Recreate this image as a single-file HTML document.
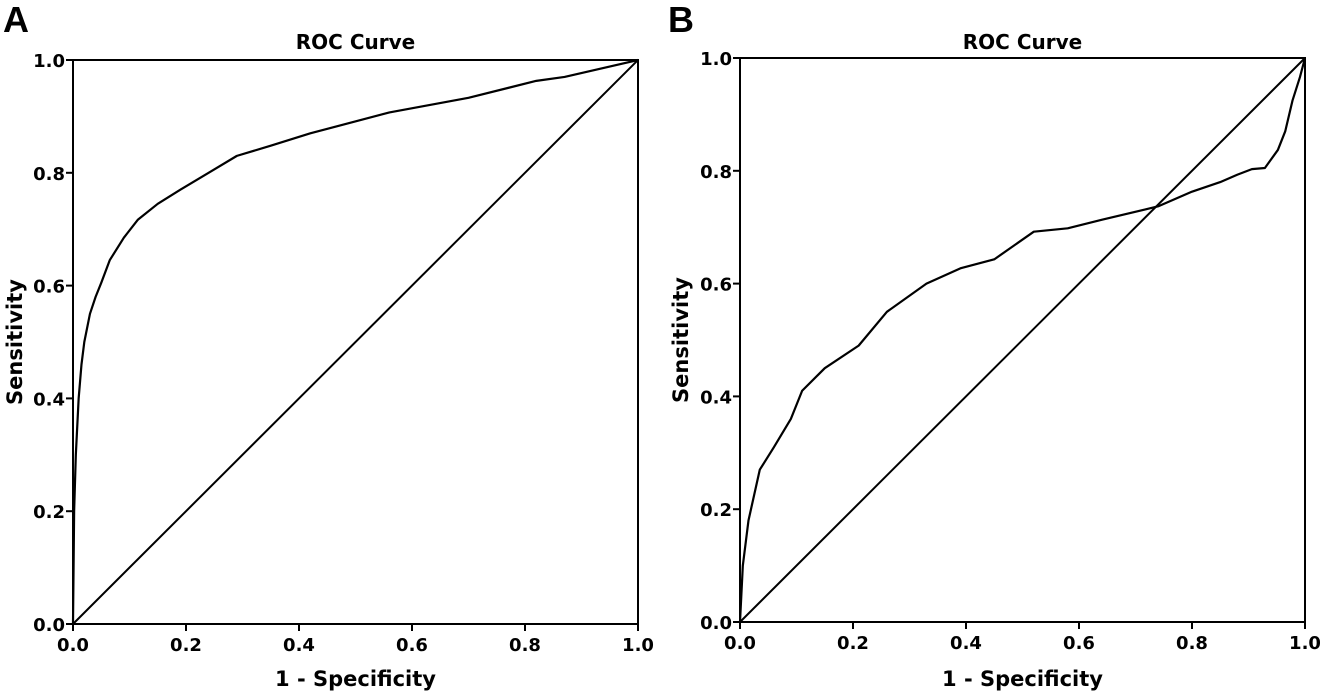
<!DOCTYPE html>
<html><head><meta charset="utf-8"><style>
html,body{margin:0;padding:0;background:#fff;}
svg{display:block;font-family:"DejaVu Sans","Liberation Sans",sans-serif;}
</style></head><body>
<svg id="c" width="1320" height="694" xmlns="http://www.w3.org/2000/svg"></svg>
<script>
const ticks = [0, 0.2, 0.4, 0.6, 0.8, 1.0];
const tickLabels = ["0.0","0.2","0.4","0.6","0.8","1.0"];
const rocAx = [0,0.002,0.005,0.01,0.015,0.02,0.03,0.04,0.05,0.065,0.09,0.115,0.15,0.19,0.24,0.29,0.35,0.42,0.56,0.7,0.82,0.87,1];
const rocAy = [0,0.2,0.3,0.4,0.46,0.5,0.55,0.58,0.605,0.645,0.685,0.717,0.745,0.77,0.8,0.83,0.848,0.87,0.907,0.933,0.963,0.97,1];
const rocBx = [0,0.005,0.015,0.035,0.06,0.09,0.11,0.15,0.21,0.26,0.33,0.39,0.45,0.52,0.58,0.64,0.74,0.8,0.85,0.88,0.906,0.929,0.952,0.965,0.978,0.991,1];
const rocBy = [0,0.1,0.18,0.27,0.31,0.36,0.41,0.45,0.49,0.55,0.6,0.627,0.643,0.692,0.698,0.713,0.737,0.763,0.78,0.793,0.803,0.805,0.837,0.87,0.925,0.966,1];

const NS="http://www.w3.org/2000/svg";
const svg=document.getElementById('c');
function mk(tag,attrs,parent){const e=document.createElementNS(NS,tag);for(const k in attrs)e.setAttribute(k,attrs[k]);(parent||svg).appendChild(e);return e;}

function panel(letter,x0,x1,yTop,yBot,xs,ys,letterX,ylabX,key){
  const g=mk('g',{});
  
  
  const sx=v=>x0+v*(x1-x0), sy=v=>yBot-v*(yBot-yTop);
  const L=mk('text',{x:letterX,y:32,'font-size':36,'font-weight':'bold','font-family':'Liberation Sans,sans-serif'},g);
  L.textContent=letter;
  
  
  const t=mk('text',{x:(x0+x1)/2,y:49,'font-size':20,'font-weight':'bold','text-anchor':'middle'},g);
  t.textContent='ROC Curve';
  
  
  const frame=mk('rect',{x:x0,y:yTop,width:x1-x0,height:yBot-yTop,fill:'none',stroke:'#000','stroke-width':2},g);
  
  
  ticks.forEach((v,i)=>{
    mk('line',{x1:sx(v),x2:sx(v),y1:yBot,y2:yBot+7,stroke:'#000','stroke-width':2},g);
    mk('line',{x1:x0-7,x2:x0,y1:sy(v),y2:sy(v),stroke:'#000','stroke-width':2},g);
    const xl=mk('text',{x:sx(v),y:yBot+27,'font-size':18,'font-weight':'bold','text-anchor':'middle'},g);
    xl.textContent=tickLabels[i];
    
    
    const yl=mk('text',{x:x0-8,y:sy(v)+7,'font-size':18,'font-weight':'bold','text-anchor':'end'},g);
    yl.textContent=tickLabels[i];
    
    
  });
  const xt=mk('text',{x:(x0+x1)/2,y:686,'font-size':21,'font-weight':'bold','text-anchor':'middle'},g);
  xt.textContent='1 - Specificity';
  
  
  const yt=mk('text',{x:0,y:0,'font-size':21,'font-weight':'bold','text-anchor':'middle',transform:`translate(${ylabX},${(yTop+yBot)/2}) rotate(-90)`},g);
  yt.textContent='Sensitivity';
  
  
  const d=mk('line',{x1:sx(0),y1:sy(0),x2:sx(1),y2:sy(1),stroke:'#000','stroke-width':2},g);
  
  
  const p=mk('polyline',{points:xs.map((v,i)=>sx(v)+','+sy(ys[i])).join(' '),fill:'none',stroke:'#000','stroke-width':2.2,'stroke-linejoin':'round'},g);
  
  
}
panel('A',73,638,60,624,rocAx,rocAy,3,22,'a');
panel('B',740,1305,58,622,rocBx,rocBy,668,688,'b');
</script>
</body></html>
